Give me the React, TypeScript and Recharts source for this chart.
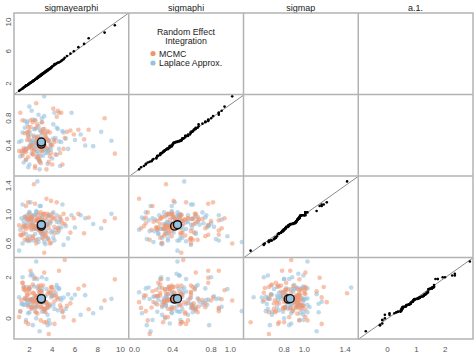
import { ScatterChart, Scatter, XAxis, YAxis, ReferenceLine } from "recharts";

// panel grid geometry
const L = 14;
const T = 13;
const PW = 114.75;
const PH = 81.5;

const varNames = ["sigmayearphi", "sigmaphi", "sigmap", "a.1."];
const domains: [number, number][] = [[0.65, 10.72], [-0.055, 1.14], [0.405, 1.535], [-1.02, 2.95]];
const bottomTicks = [[2, 4, 6, 8, 10], [0, 0.2, 0.4, 0.6, 0.8, 1.0], [0.6, 0.8, 1.0, 1.2, 1.4], [-1, 0, 1, 2]];
const leftTicks = [[2, 4, 6, 8, 10], [0, 0.4, 0.8], [0.6, 1.0, 1.4], [-1, 0, 1, 2]];
const tickDigits = [0, 1, 1, 0];

const meanMCMC = [3.05, 0.42, 0.84, 0.95];
const meanLaplace = [3.05, 0.45, 0.86, 0.97];

// posterior draws (MCMC) and Laplace approximation draws, per parameter
const sigmayearphiMCMC = [
  2.6, 3.4, 1.9, 4.2, 2.3, 3.0, 5.1, 2.8, 1.5, 3.7, 2.1, 4.6, 3.2, 2.5, 1.7, 3.9, 2.9, 6.3, 2.2, 3.3,
  1.3, 2.7, 4.0, 3.6, 2.0, 5.6, 2.4, 3.1, 1.8, 4.4, 2.9, 3.5, 1.6, 2.6, 7.2, 3.0, 2.3, 4.8, 1.9, 3.8,
  2.7, 1.4, 3.3, 4.1, 2.1, 2.8, 5.9, 3.2, 1.7, 2.5, 3.6, 2.0, 4.3, 2.9, 1.2, 3.4, 2.6, 8.6, 2.2, 3.9,
  1.8, 3.1, 4.7, 2.4, 3.0, 1.6, 5.3, 2.8, 3.5, 2.1, 4.0, 2.7, 1.5, 3.2, 6.8, 2.3, 3.7, 1.9, 2.6, 4.5,
  3.3, 2.0, 1.1, 3.8, 2.5, 5.0, 2.9, 3.6, 1.7, 4.2, 2.2, 3.0, 9.5, 2.8, 1.4, 3.4, 4.9, 2.4, 3.1, 2.7,
];
const sigmayearphiLaplace = [
  3.1, 2.2, 4.5, 1.8, 2.9, 3.6, 2.4, 5.4, 1.6, 3.3, 2.7, 4.1, 2.0, 3.8, 1.3, 2.6, 3.0, 6.0, 2.3, 4.3,
  1.9, 3.5, 2.8, 1.5, 4.8, 2.5, 3.2, 7.6, 2.1, 3.9, 2.7, 1.7, 3.4, 4.6, 2.2, 3.0, 1.4, 5.2, 2.9, 3.7,
  2.4, 1.8, 4.0, 3.1, 2.6, 6.5, 2.0, 3.3, 1.6, 4.4, 2.8, 3.5, 1.2, 2.5, 4.2, 3.0, 2.1, 5.7, 3.6, 1.9,
  2.7, 3.2, 4.9, 2.3, 1.5, 3.9, 2.9, 8.3, 2.4, 3.4, 1.7, 4.7, 2.6, 3.1, 2.0, 3.7, 1.1, 5.0, 2.8, 3.3,
  2.2, 4.1, 1.8, 3.0, 6.9, 2.5, 3.6, 1.4, 2.9, 4.4, 2.3, 3.2, 9.2, 2.7, 1.9, 3.8, 2.1, 4.6, 3.5, 2.6,
];
const sigmaphiMCMC = [
  0.23, 0.39, 0.23, 0.48, 0.74, 0.31, 0.51, 0.45, 0.36, 0.47, 0.67, 0.88, 0.59, 0.77, 0.34, 0.29, 0.37, 0.63, 0.41, 0.49,
  0.31, 0.50, 0.40, 0.35, 0.37, 0.62, 0.34, 0.32, 0.59, 0.82, 0.43, 0.05, 0.32, 0.66, 0.63, 0.39, 0.27, 0.88, 0.54, 0.24,
  0.53, 0.77, 0.38, 0.94, 0.77, 0.37, 0.56, 0.44, 0.19, 0.10, 0.47, 0.61, 0.27, 0.18, 0.88, 0.56, 0.43, 0.80, 0.40, 0.41,
  0.48, 0.74, 0.29, 0.33, 0.14, 0.58, 0.60, 0.24, 0.50, 0.38, 0.12, 0.49, 0.32, 0.64, 0.49, 0.27, 0.16, 0.67, 1.02, 0.91,
  0.64, 0.49, 0.32, 0.59, 0.07, 0.35, 0.42, 0.61, 0.30, 0.45, 0.35, 0.39, 0.28, 0.20, 0.25, 0.53, 0.12, 0.52, 0.59, 0.71,
];
const sigmaphiLaplace = [
  0.74, 0.29, 0.64, 0.35, 0.63, 0.29, 0.64, 0.35, 0.66, 0.44, 0.22, 0.71, 0.12, 0.44, 0.47, 0.32, 0.39, 0.48, 0.39, 0.51,
  0.08, 0.35, 0.68, 0.15, 0.45, 0.77, 0.25, 0.39, 0.47, 0.34, 0.31, 0.19, 0.33, 0.46, 0.91, 0.61, 0.59, 0.50, 0.05, 0.33,
  0.45, 0.72, 0.21, 0.80, 0.39, 0.56, 0.97, 1.12, 0.76, 0.26, 0.85, 0.50, 0.24, 0.46, 0.88, 0.54, 0.56, 0.88, 0.13, 0.60,
  0.52, 0.35, 0.61, 0.78, 0.33, 0.41, 0.17, 0.60, 0.54, 0.29, 0.36, 0.10, 0.39, 0.48, 0.39, 0.48, 0.45, 0.59, 0.20, 0.83,
  0.44, 0.50, 0.75, 0.25, 0.40, 0.64, 0.31, 0.28, 0.16, 0.66, 0.47, 0.33, 0.47, 0.27, 0.54, 0.37, 0.42, 0.35, 0.59, 0.45,
];
const sigmapMCMC = [
  0.82, 0.70, 0.82, 0.74, 0.70, 0.80, 0.87, 0.89, 0.75, 0.81, 0.94, 0.78, 0.67, 1.15, 0.85, 0.61, 0.84, 1.01, 0.97, 0.47,
  0.71, 0.91, 1.01, 1.01, 0.93, 0.75, 0.82, 0.73, 0.67, 1.17, 0.92, 1.22, 0.97, 0.65, 0.96, 1.00, 0.87, 0.92, 1.17, 0.91,
  0.93, 0.72, 1.01, 0.95, 0.86, 0.81, 0.95, 0.92, 1.12, 0.84, 0.97, 0.65, 0.94, 0.79, 0.72, 0.95, 0.91, 0.91, 0.97, 1.19,
  0.94, 0.81, 0.97, 1.42, 1.03, 0.65, 0.94, 0.79, 0.75, 0.84, 0.96, 0.99, 0.84, 0.89, 0.74, 0.68, 0.65, 0.92, 0.60, 0.81,
  1.01, 1.00, 0.85, 0.60, 0.81, 1.01, 0.95, 0.86, 0.80, 0.83, 0.79, 0.77, 0.95, 0.90, 0.82, 0.71, 0.88, 0.93, 0.77, 0.94,
];
const sigmapLaplace = [
  0.96, 0.81, 0.75, 0.64, 0.87, 0.68, 0.99, 0.67, 0.97, 0.89, 0.93, 1.03, 1.03, 0.98, 0.95, 0.80, 1.12, 0.82, 0.88, 0.79,
  0.96, 0.85, 0.86, 0.92, 0.82, 0.84, 0.73, 0.87, 0.64, 0.90, 1.03, 0.95, 0.77, 0.82, 0.93, 0.94, 1.14, 0.84, 0.79, 0.99,
  0.64, 0.88, 0.77, 0.88, 0.83, 0.99, 0.70, 0.62, 0.83, 0.99, 0.66, 0.91, 0.79, 0.99, 0.64, 0.89, 0.90, 0.99, 0.66, 0.94,
  1.46, 0.99, 1.14, 0.85, 0.87, 0.75, 1.12, 0.81, 0.80, 0.59, 0.73, 0.94, 1.05, 0.68, 1.03, 0.99, 0.50, 0.58, 0.62, 0.83,
  0.94, 0.68, 0.99, 0.74, 0.95, 0.73, 0.87, 0.60, 0.77, 0.90, 0.99, 0.74, 1.01, 0.80, 0.63, 0.87, 1.17, 0.89, 0.86, 1.03,
];
const a1MCMC = [
  1.10, 0.48, 1.40, -0.26, 0.73, 0.81, 2.85, 1.59, 1.56, 1.30, 0.94, 2.33, 1.61, 1.99, 0.93, 1.49, 0.93, 1.45, 0.52, -0.18,
  0.89, 1.06, 1.54, 1.20, 1.47, 0.74, 0.87, 0.77, 1.16, 1.03, 1.13, 0.80, 1.42, 0.31, 0.45, 1.35, 1.26, 0.52, -0.26, 0.69,
  0.24, 1.74, 0.45, 1.38, 2.33, 1.40, -0.09, 1.05, 1.33, 1.12, 0.65, 1.54, 1.12, 0.54, 0.36, 0.76, 1.01, 0.88, 0.93, 1.54,
  1.12, 0.55, 0.64, 1.23, -0.09, 0.98, 0.62, 1.09, -0.18, 0.90, 1.12, 0.65, 1.42, 0.48, 1.61, 1.66, -0.75, 0.59, 0.88, 0.94,
  2.24, 1.23, 0.07, 1.26, 0.52, 0.07, 1.26, 0.52, -0.18, 0.84, 0.48, 1.61, 1.91, 0.81, 1.74, 0.31, 0.36, 0.79, 1.30, 0.90,
];
const a1Laplace = [
  1.47, 0.56, 0.40, 0.95, 1.42, 0.18, 1.56, 1.18, 0.99, 0.38, 0.74, 0.67, 1.47, 0.59, 0.71, 0.01, 1.19, 1.16, 0.94, 1.25,
  0.26, 1.93, 0.82, 1.51, 0.90, 0.92, 1.11, 0.26, 2.10, 1.04, 0.98, -0.07, 1.08, 1.47, 0.57, 0.59, 0.72, 0.47, 1.28, 0.62,
  1.02, 0.78, 1.09, 2.01, 0.85, 0.18, 1.44, 0.36, 0.67, 1.51, 0.95, 1.44, 0.33, 0.33, 0.47, 1.32, 0.91, 0.98, -0.32, 0.67,
  1.51, 0.86, 0.31, -0.32, 0.66, 1.25, -0.62, 0.52, 1.93, 0.82, 1.54, 1.00, 0.56, 0.33, 0.31, -0.07, 1.04, 1.02, 1.06, 1.09,
  2.18, 1.16, 0.90, 0.92, 1.14, 0.57, 0.69, 2.01, 0.95, 1.63, 2.10, 1.03, 0.96, 1.93, 0.71, -0.24, 0.82, 1.44, 0.52, 2.78,
];

const mcmc = [sigmayearphiMCMC, sigmaphiMCMC, sigmapMCMC, a1MCMC];
const laplace = [sigmayearphiLaplace, sigmaphiLaplace, sigmapLaplace, a1Laplace];

const ORANGE = "#F0946E";
const BLUE = "#96C1E0";
const FONT = "'Liberation Sans', Arial, sans-serif";

const dot = (color: string, r: number, op: number) => (p: any) =>
  <circle cx={p.cx} cy={p.cy} r={r} fill={color} fillOpacity={op} />;

const meanDot = (color: string) => (p: any) =>
  <circle cx={p.cx} cy={p.cy} r={4} fill={color} stroke="#111" strokeWidth={1.4} />;

function qqPoints(a: number[], b: number[]) {
  const sa = [...a].sort((u, v) => u - v);
  const sb = [...b].sort((u, v) => u - v);
  return sa.map((v, i) => ({ x: v, y: sb[i] }));
}

function Panel({ row, col }: { row: number; col: number }) {
  const left = col === 0 ? 14 : 0;
  const bottom = row === 3 ? 14 : 0;
  const fmt = (i: number, v: number) => v.toFixed(tickDigits[i]);

  const BottomTick = (p: any) => (
    <text x={p.x} y={PH + 12.5} textAnchor="middle" fontSize={8} fill="#555" fontFamily={FONT}>
      {fmt(col, p.payload.value)}
    </text>
  );
  const LeftTick = (p: any) => (
    <text x={11} y={p.y} transform={`rotate(-90, 11, ${p.y})`} textAnchor="middle" fontSize={8} fill="#555" fontFamily={FONT}>
      {fmt(row, p.payload.value)}
    </text>
  );

  const pairs = (src: number[][]) => src[col].map((v, i) => ({ x: v, y: src[row][i] }));

  return (
    <div style={{ position: "absolute", left: L + col * PW - left, top: T + row * PH }}>
      <ScatterChart width={PW + left} height={PH + bottom} margin={{ top: 0, right: 0, bottom: 0, left: 0 }}>
        <XAxis type="number" dataKey="x" domain={domains[col]} allowDataOverflow hide={row !== 3}
          ticks={bottomTicks[col]} tick={BottomTick} tickLine={false} axisLine={false} height={bottom} />
        <YAxis type="number" dataKey="y" domain={domains[row]} allowDataOverflow hide={col !== 0}
          ticks={leftTicks[row]} tick={LeftTick} tickLine={false} axisLine={false} width={left} />
        {row === col ? (
          <>
            <ReferenceLine
              segment={[{ x: domains[col][0], y: domains[col][0] }, { x: domains[col][1], y: domains[col][1] }]}
              stroke="#8a8a8a" strokeWidth={1} />
            <Scatter data={qqPoints(mcmc[col], laplace[col])} shape={dot("#000", 1.3, 1)} isAnimationActive={false} />
          </>
        ) : (
          <>
            <Scatter data={pairs(laplace)} shape={dot(BLUE, 2.3, 0.6)} isAnimationActive={false} />
            <Scatter data={pairs(mcmc)} shape={dot(ORANGE, 2.3, 0.55)} isAnimationActive={false} />
            <Scatter data={[{ x: meanMCMC[col], y: meanMCMC[row] }]} shape={meanDot(ORANGE)} isAnimationActive={false} />
            <Scatter data={[{ x: meanLaplace[col], y: meanLaplace[row] }]} shape={meanDot(BLUE)} isAnimationActive={false} />
          </>
        )}
      </ScatterChart>
    </div>
  );
}

export default function App() {
  const cells: { row: number; col: number }[] = [];
  for (let r = 0; r < 4; r++) for (let c = 0; c <= r; c++) cells.push({ row: r, col: c });

  return (
    <div style={{ position: "absolute", left: 0, top: 0, width: 474, height: 353, background: "#fff", fontFamily: FONT }}>
      {cells.map((c) => <Panel key={`${c.row}-${c.col}`} row={c.row} col={c.col} />)}
      <svg width={474} height={353} style={{ position: "absolute", left: 0, top: 0, pointerEvents: "none" }}>
        {varNames.map((n, i) => (
          <text key={n} x={L + (i + 0.5) * PW} y={11} textAnchor="middle" fontSize={9} fill="#222">{n}</text>
        ))}
        <rect x={L} y={T} width={4 * PW} height={4 * PH} fill="none" stroke="#b3b3b3" strokeWidth={1.5} />
        {[1, 2, 3].map((i) => (
          <g key={i}>
            <line x1={L + i * PW} x2={L + i * PW} y1={T} y2={T + 4 * PH} stroke="#b3b3b3" strokeWidth={1.5} />
            <line x1={L} x2={L + 4 * PW} y1={T + i * PH} y2={T + i * PH} stroke="#b3b3b3" strokeWidth={1.5} />
          </g>
        ))}
        <text x={186} y={35} textAnchor="middle" fontSize={8.8} fill="#222">Random Effect</text>
        <text x={186} y={44} textAnchor="middle" fontSize={8.8} fill="#222">Integration</text>
        <circle cx={153} cy={53.5} r={2.6} fill={ORANGE} />
        <text x={159} y={56.5} fontSize={8.8} fill="#222">MCMC</text>
        <circle cx={153} cy={63} r={2.6} fill={BLUE} />
        <text x={159} y={66} fontSize={8.8} fill="#222">Laplace Approx.</text>
      </svg>
    </div>
  );
}
